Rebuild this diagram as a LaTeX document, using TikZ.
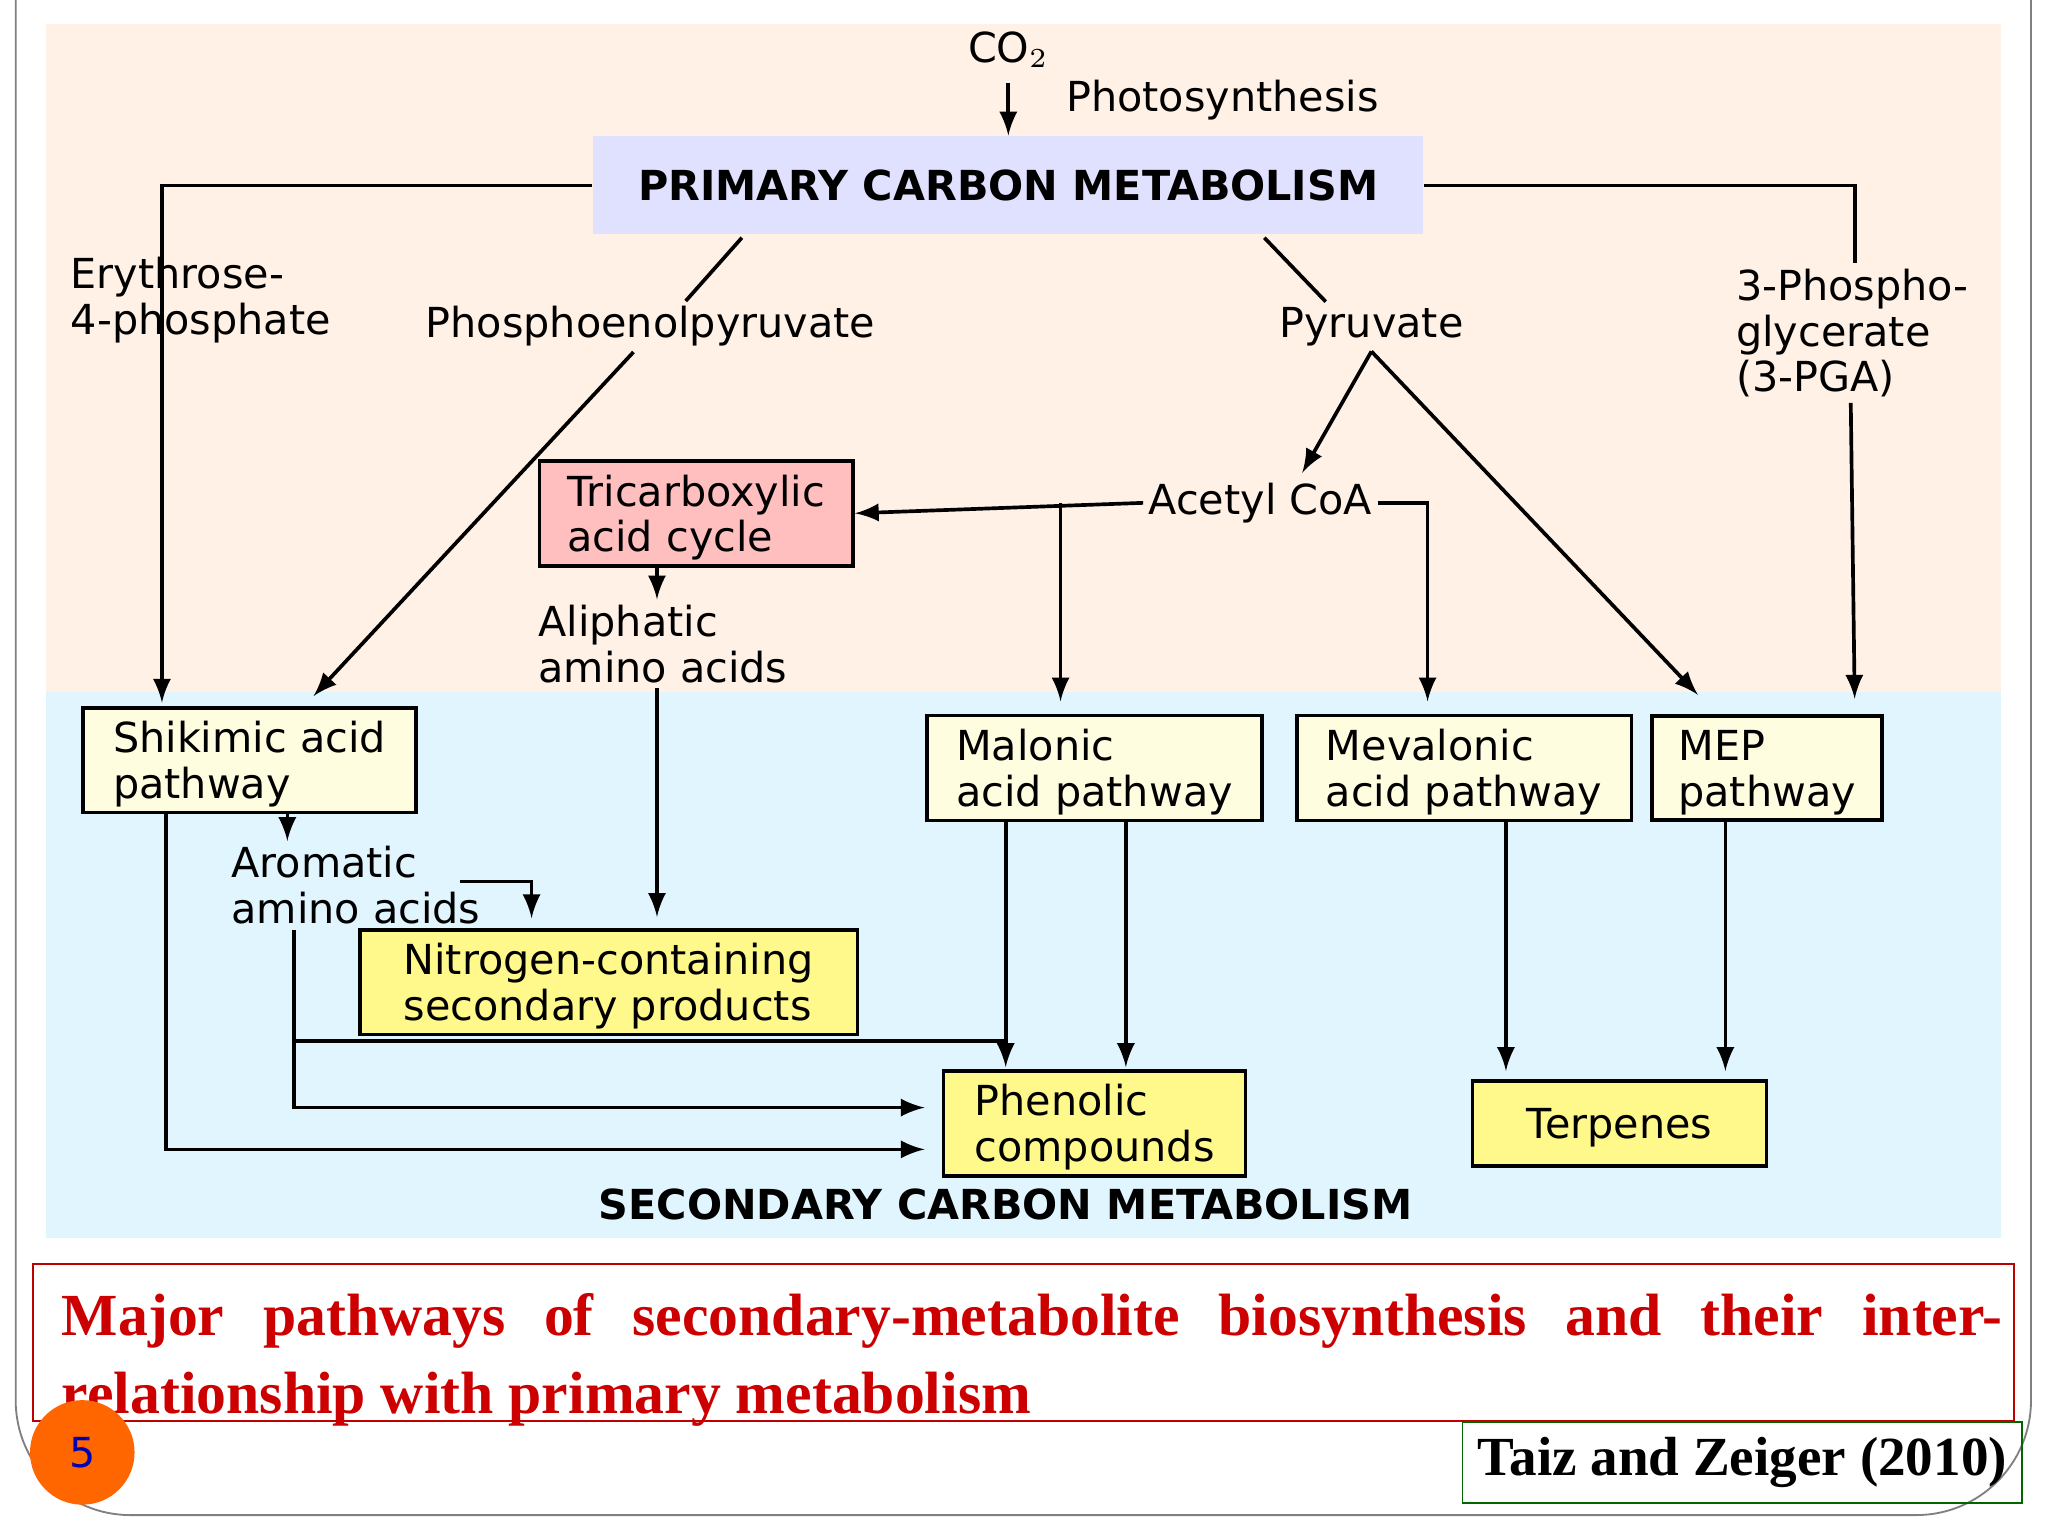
\documentclass[tikz,border=0pt]{standalone}
\usepackage{fontspec}
\setmainfont{DejaVu Sans}
\newfontfamily\capfont{Liberation Serif}
\usetikzlibrary{calc,positioning}
\tikzstyle{pathbox} = [rectangle, draw, thick, align=left, inner sep=3pt, text depth=0pt]
\tikzstyle{lbl} = [align=left, inner sep=1pt]
\tikzstyle{connector} = [thick, -latex]
\tikzstyle{link} = [thick]
\begin{document}
\begin{tikzpicture}[x=0.01cm, y=-0.01cm, font=\fontsize{9}{10}\selectfont]
        \useasboundingbox (0,0) rectangle (1568,1176);
        \fill[white] (0,0) rectangle (1568,1176);
        \draw[gray, rounded corners=25pt] (12,-20) -- (12,1160) -- (1555,1160) -- (1555,-20);
        \fill[red!12!orange!10] (35,18) rectangle (1532,530);
        \fill[cyan!12] (35,530) rectangle (1532,948);
        % top
        \node (co2) at (772,38) {CO$_2$};
        \node (photo) [lbl] at (936,77) {Photosynthesis};
        \node (primary) [fill=blue!12, minimum width=6.35cm, minimum height=0.75cm, font=\fontsize{9}{10}\selectfont\bfseries] at (772,142) {PRIMARY CARBON METABOLISM};
        \draw [connector] (co2) -- (primary);
        % labels
        \node (e4p) [lbl, anchor=west] at (50,230) {Erythrose-\\4-phosphate};
        \node (pep) [lbl] at (498,250) {Phosphoenolpyruvate};
        \node (pyr) [lbl] at (1050,250) {Pyruvate};
        \node (pga) [lbl, anchor=west] at (1325,255) {3-Phospho-\\glycerate\\(3-PGA)};
        \node (acoa) [lbl] at (965,385) {Acetyl CoA};
        \node (tca) [pathbox, fill=red!25, minimum width=2.4cm, minimum height=0.79cm] at (533,393) {Tricarboxylic\\acid cycle};
        \node (aliph) [lbl, anchor=west] at (408,493) {Aliphatic\\amino acids};
        \node (shik) [pathbox, fill=yellow!12, minimum width=2.55cm, minimum height=0.77cm] at (191,582) {Shikimic acid\\pathway};
        \node (arom) [lbl, anchor=west] at (173,678) {Aromatic\\amino acids};
        \node (malon) [pathbox, fill=yellow!12, minimum width=2.56cm, minimum height=0.79cm] at (838,588) {Malonic\\acid pathway};
        \node (meval) [pathbox, fill=yellow!12, minimum width=2.56cm, minimum height=0.79cm] at (1121,588) {Mevalonic\\acid pathway};
        \node (mep) [pathbox, fill=yellow!12, minimum width=1.76cm, minimum height=0.79cm] at (1353,588) {MEP\\pathway};
        \node (nitro) [pathbox, fill=yellow!45, minimum width=3.81cm, minimum height=0.75cm] at (466,752) {Nitrogen-containing\\secondary products};
        \node (phen) [pathbox, fill=yellow!45, minimum width=2.31cm, minimum height=0.75cm] at (838,860) {Phenolic\\compounds};
        \node (terp) [pathbox, fill=yellow!45, minimum width=2.25cm, minimum height=0.65cm, align=center] at (1240,860) {Terpenes};
        \node (second) [font=\fontsize{9}{10}\selectfont\bfseries] at (770,922) {SECONDARY CARBON METABOLISM};
        % connectors
        \draw [connector] (primary.west) -| (124,538);
        \draw [link] (primary.east) -| (pga.north -| 1420,0);
        \draw [connector] (pga.south -| 1417,0) -- (1420,535);
        \draw [link] (568,182) -- (pep.north east -| 525,0);
        \draw [connector] (pep.south -| 485,0) -- (240,533);
        \draw [link] (968,182) -- (pyr.north -| 1015,0);
        \draw [connector] (pyr.south) -- (997,362);
        \draw [connector] (pyr.south) -- (1300,532);
        \draw [connector] (acoa.west) -- (tca.east);
        \draw [connector] (acoa.west -| 812,0) -- (812,537);
        \draw [connector] (acoa.east) -| (1093,537);
        \draw [connector] (tca.south -| 503,0) -- (aliph.north -| 503,0);
        \draw [connector] (aliph.south -| 503,0) -- (503,702);
        \draw [connector] (shik.south -| 220,0) -- (arom.north -| 220,0);
        \draw [connector] (352,675) -| (407,703);
        \draw [connector] (malon.south -| 770,0) -- (770,817);
        \draw [connector] (malon.south -| 862,0) -- (862,817);
        \draw [connector] (arom.south -| 225,0) |- (708,848);
        \draw [link] (225,797) -- (770,797);
        \draw [connector] (shik.south -| 127,0) |- (708,880);
        \draw [connector] (meval.south -| 1153,0) -- (1153,820);
        \draw [connector] (mep.south -| 1321,0) -- (1321,820);
        % caption
        \draw[red!75!black] (25,968) rectangle (1542,1088);
        \node (caption) [text width=14.85cm, align=justify, anchor=north west, text=red!80!black, font=\capfont\fontsize{13}{17}\selectfont\bfseries] at (35,978) {Major pathways of secondary-metabolite biosynthesis and their inter-relationship with primary metabolism};
        \node (page) [circle, fill=orange!80!red, minimum size=0.8cm, text=blue!70!black] at (63,1112) {5};
        \node (ref) [draw=green!40!black, minimum width=4.22cm, minimum height=0.45cm, font=\capfont\fontsize{12}{14}\selectfont\bfseries] at (1334,1120) {Taiz and Zeiger (2010)};
    \end{tikzpicture}
\end{document}
